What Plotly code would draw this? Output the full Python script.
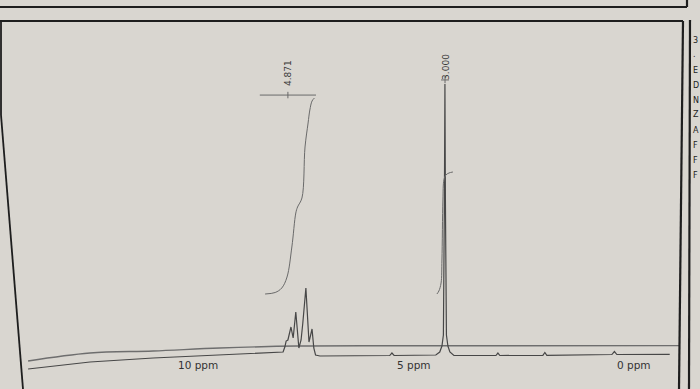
import plotly.graph_objects as go

# ---- data (ppm, relative intensity) ----
spec_ppm = [13.37, 11.96, 10.52, 9.00, 7.63, 7.56, 7.52, 7.49, 7.45, 7.38, 7.33, 7.27, 7.20, 7.15,
            7.11, 7.04, 6.97, 6.90, 6.86, 6.82, 6.72, 5.13, 5.08, 5.03, 4.08, 3.99, 3.94, 3.907,
            3.884, 3.872, 3.861, 3.838, 3.804, 3.759, 3.667, 2.71, 2.665, 2.62, 1.64, 1.595, 1.55,
            0.068, 0.01, -0.046, -1.25]
spec_int = [-5.56, -2.96, -1.48, -0.37, 0.48, 0.74, 2.59, 4.81, 5.19, 10.0, 5.93, 15.56, 2.22, 5.19,
            11.48, 24.44, 4.44, 9.26, 2.22, -0.37, -0.74, -0.56, 0.37, -0.56, -0.37, 0.74, 2.96, 7.04,
            57.0, 100.0, 57.0, 7.04, 2.96, 0.74, -0.56, -0.56, 0.37, -0.56, -0.48, 0.56, -0.48,
            -0.19, 0.93, -0.19, -0.11]

ref_ppm = [13.37, 11.96, 10.52, 9.00, 7.24, 3.76, -1.48]
ref_int = [-2.59, 0.37, 1.11, 2.22, 2.96, 3.04, 3.11]

integ1_ppm = [7.97, 7.74, 7.59, 7.47, 7.36, 7.27, 7.23, 7.13, 7.06, 6.99, 6.95, 6.90, 6.845]
integ1_int = [22.22, 22.78, 24.44, 28.52, 39.63, 52.22, 54.44, 57.78, 76.67, 85.56, 90.37, 93.70, 94.81]

integ2_ppm = [4.055, 4.01, 3.96, 3.94, 3.918, 3.895, 3.85, 3.78, 3.69]
integ2_int = [22.22, 23.33, 26.30, 34.81, 57.04, 64.44, 66.30, 67.04, 67.41]

integ_labels = ["4.871", "3.000"]
integ_label_ppm = [7.45, 3.85]
integ_label_int = [104.0, 106.3]
integ_bar_from = [8.09, 3.96]
integ_bar_to = [6.81, 3.78]
integ_bar_int = [95.9, 101.5]

tick_vals = [10, 5, 0]
tick_text = ["10 ppm", "5 ppm", "0 ppm"]

BG = "#d9d6d0"
W, H = 700.0, 389.0
fig = go.Figure()

fig.add_trace(go.Scatter(x=ref_ppm, y=ref_int, mode="lines", line=dict(color="#6e6e6e", width=1.4, shape="spline"),
                         hoverinfo="skip", showlegend=False))
fig.add_trace(go.Scatter(x=spec_ppm, y=spec_int, mode="lines", line=dict(color="#474747", width=1.2),
                         showlegend=False))
fig.add_trace(go.Scatter(x=integ1_ppm, y=integ1_int, mode="lines", line=dict(color="#6a6a6a", width=1, shape="spline"),
                         showlegend=False))
fig.add_trace(go.Scatter(x=integ2_ppm, y=integ2_int, mode="lines", line=dict(color="#6a6a6a", width=1, shape="spline"),
                         showlegend=False))

for lab, lx, ly, b0, b1, by in zip(integ_labels, integ_label_ppm, integ_label_int,
                                    integ_bar_from, integ_bar_to, integ_bar_int):
    fig.add_shape(type="line", xref="x", yref="y", x0=b0, x1=b1, y0=by, y1=by,
                  line=dict(color="#6a6a6a", width=1))
    mid = (b0 + b1) / 2
    fig.add_shape(type="line", xref="x", yref="y", x0=mid, x1=mid, y0=by - 1.2, y1=by + 1.2,
                  line=dict(color="#6a6a6a", width=1))
    fig.add_annotation(x=lx, y=ly, xref="x", yref="y", text=lab, textangle=-90, showarrow=False,
                       font=dict(family="DejaVu Sans", size=9, color="#3a3a3a"))

# axis tick labels (left edge sits at the tick position, as on the printout)
for v, t in zip(tick_vals, tick_text):
    fig.add_annotation(x=v, y=1 - 365 / H, xref="x", yref="paper", text=t, showarrow=False,
                       xanchor="left", xshift=0, yanchor="middle",
                       font=dict(family="DejaVu Sans", size=10.5, color="#333"))

# photo frame lines (paper coordinates)
def seg(x0, y0, x1, y1, w=2.2, c="#1e1e1e"):
    fig.add_shape(type="line", xref="paper", yref="paper", x0=x0 / W, x1=x1 / W,
                  y0=1 - y0 / H, y1=1 - y1 / H, line=dict(color=c, width=w))

seg(0, 7, 687, 7)
seg(687, 0, 687, 7)
seg(0, 21, 683, 21)
seg(683, 21, 679, 389)
seg(690, 20, 689, 389)
seg(1, 20, 1, 115, w=1.8)
seg(1, 115, 23, 389, w=1.8)

side_letters = ["3", ".", "E", "D", "N", "Z", "A", "F", "F", "F"]
side_y = [40, 55, 70, 85, 100, 115, 130, 145, 160, 175]
for t, yy in zip(side_letters, side_y):
    fig.add_annotation(x=692 / W, y=1 - yy / H, xref="paper", yref="paper", text=t, showarrow=False,
                       xanchor="left", yanchor="middle", borderpad=0,
                       font=dict(family="DejaVu Sans", size=8, color="#222"))

fig.update_layout(
    width=700, height=389, margin=dict(l=0, r=0, t=0, b=0),
    paper_bgcolor=BG, plot_bgcolor=BG,
    xaxis=dict(range=[14.01, -1.94], showgrid=False, zeroline=False, showline=False, ticks="",
               tickvals=tick_vals, showticklabels=False),
    yaxis=dict(range=[-12.96, 131.11], visible=False),
)

fig.write_html("out.html")
